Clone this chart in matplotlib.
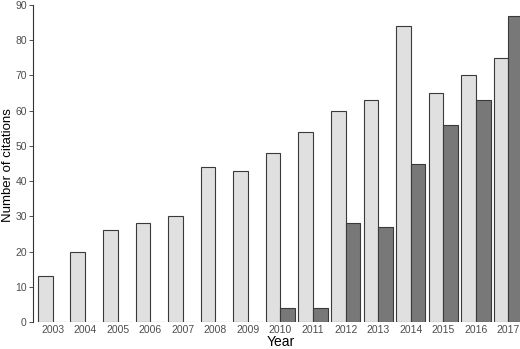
import matplotlib
matplotlib.use("Agg")
import matplotlib.pyplot as plt
import numpy as np

years = ["2003", "2004", "2005", "2006", "2007", "2008", "2009", "2010",
         "2011", "2012", "2013", "2014", "2015", "2016", "2017"]
series_a = [13, 20, 26, 28, 30, 44, 43, 48, 54, 60, 63, 84, 65, 70, 75]
series_b = [0, 0, 0, 0, 0, 0, 0, 4, 4, 28, 27, 45, 56, 63, 87]
y_ticks = [0, 10, 20, 30, 40, 50, 60, 70, 80, 90]

plt.rcParams['font.family'] = ['Liberation Sans', 'DejaVu Sans']

fig = plt.figure(figsize=(5.2, 3.49), dpi=100)
W, H = 520, 349
left_px, right_px, bottom_px, top_px = 33, 528, 322, 5
ax = fig.add_axes([left_px / W, (H - bottom_px) / H,
                   (right_px - left_px) / W, (bottom_px - top_px) / H])

x = np.arange(1, len(years) + 1)
w = 0.45
ax.bar(x - w / 2, series_a, width=w, color="#E0E0E0", edgecolor="#3a3a3a", linewidth=0.8)
ax.bar(x + w / 2, series_b, width=w, color="#787878", edgecolor="#3a3a3a", linewidth=0.8)

ax.set_xlim(0.4, len(years) + 0.6)
ax.set_ylim(0, 90)
ax.set_xticks(x)
ax.set_xticklabels(years)
ax.set_yticks(y_ticks)

for s in ["top", "right", "bottom"]:
    ax.spines[s].set_visible(False)
ax.spines["left"].set_color("#333333")
ax.spines["left"].set_linewidth(0.8)

ax.tick_params(axis="x", length=0, pad=2, labelsize=7.5, labelcolor="#4D4D4D")
ax.tick_params(axis="y", length=3, width=0.6, color="#333333", pad=1.5,
               labelsize=7.5, labelcolor="#4D4D4D")

ax.set_xlabel("Year", fontsize=10, labelpad=0)
fig.text(8 / W, 1 - 165 / H, "Number of citations", rotation=90,
         ha="center", va="center", fontsize=9.5)

fig.savefig("out.png", dpi=100)
